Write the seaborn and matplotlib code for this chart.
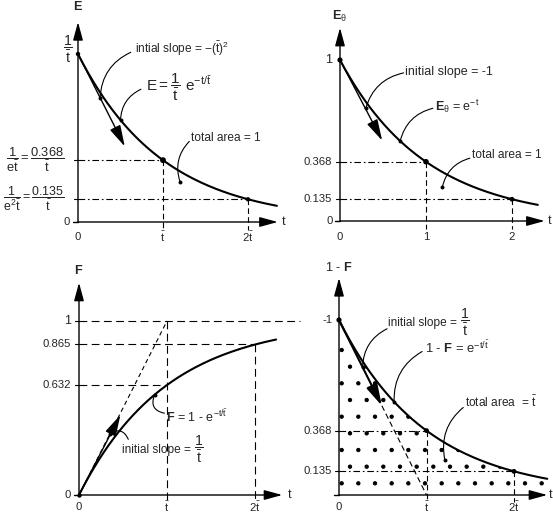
import numpy as np
import matplotlib
matplotlib.use("Agg")
import matplotlib.pyplot as plt
import seaborn as sns

sns.set_style("white")
plt.rcParams["font.family"] = ["Liberation Sans", "DejaVu Sans"]
plt.rcParams["mathtext.fontset"] = "custom"
plt.rcParams["mathtext.rm"] = "Liberation Sans"
plt.rcParams["mathtext.it"] = "Liberation Sans:italic"
plt.rcParams["mathtext.bf"] = "Liberation Sans:bold"
plt.rcParams["hatch.linewidth"] = 0.7

# marked times (multiples of the mean residence time)
t_marks = [0, 1, 2]
# exponential decay values at the marked times
decay_marks = [1.0, 0.368, 0.135]
# cumulative values at the marked times, and the asymptote
cum_marks = [0.0, 0.632, 0.865]
cum_limit = 1.0
# end of each drawn curve
t_end = {"E": 2.34, "Etheta": 2.30, "F": 2.24, "1-F": 2.38}

TB = r"\bar{\mathrm{t}}"
x_labels_tbar = ["0", rf"${TB}$", rf"$2{TB}$"]
x_labels_theta = ["0", "1", "2"]
decay_labels_theta = ["1", "0.368", "0.135"]
cum_labels = ["0", "0.632", "0.865"]

FS = 8.6
TK = 8.1
W, H = 553, 515
XL = (-1.0, 2.7)
YL = (-0.25, 1.4)

fig = plt.figure(figsize=(W / 100, H / 100), dpi=100)


def panel(ox, oy, ux, uy):
    left = ox + XL[0] * ux
    right = ox + XL[1] * ux
    top = oy - YL[1] * uy
    bottom = oy - YL[0] * uy
    ax = fig.add_axes([left / W, 1 - bottom / H, (right - left) / W, (bottom - top) / H])
    ax.set_xlim(*XL)
    ax.set_ylim(*YL)
    ax.axis("off")
    ax.patch.set_visible(False)
    return ax


def arrow(ax, p0, p1, lw=1.0, hl=0.7, hw=0.22):
    ax.annotate("", xy=p1, xytext=p0,
                arrowprops=dict(arrowstyle=f"-|>,head_length={hl},head_width={hw}",
                                lw=lw, color="k", shrinkA=0, shrinkB=0,
                                mutation_scale=10))


def axes_frame(ax, xend, ytop, tlabel_x, xname, name_y):
    ax.plot([-0.06, 0], [0, 0], color="k", lw=1.0)
    arrow(ax, (0, 0), (xend, 0), hl=1.1, hw=0.3)
    arrow(ax, (0, 0), (0, ytop), hl=1.1, hw=0.3)
    ax.text(tlabel_x, 0, "t", fontsize=FS + 0.5, ha="left", va="center")
    ax.text(0, name_y, xname, fontsize=FS + 0.5, ha="center", va="center")


def leader(ax, start, dot, rad):
    ax.annotate("", xy=dot, xytext=start,
                arrowprops=dict(arrowstyle="-", lw=0.8, color="k",
                                connectionstyle=f"arc3,rad={rad}",
                                shrinkA=0, shrinkB=0))
    ax.scatter([dot[0]], [dot[1]], s=8, color="k", zorder=5, linewidths=0)


def chained(ax, x, y, parts):
    """Write text pieces one after another, each vertically centred."""
    prev = ax.text(x, y, parts[0][0], fontsize=parts[0][1], ha="left", va="center")
    for s, fs in parts[1:]:
        prev = ax.annotate(s, xy=(1, 0.5), xycoords=prev, xytext=(2, 0),
                           textcoords="offset points", fontsize=fs,
                           ha="left", va="center")
    return prev


def curve(ax, t, y):
    sns.lineplot(x=t, y=y, ax=ax, color="k", lw=1.5, legend=False)


DASH = (0, (5, 3))
DASHDOT = (0, (6, 2.5, 1.5, 2.5))
LONG = (0, (7, 4))
FRAC1 = rf"$\dfrac{{1}}{{{TB}}}$"

# ---------------- E(t) ----------------
ax = panel(78, 222, 85, 168)
t = np.linspace(0, t_end["E"], 200)
curve(ax, t, np.exp(-t))
axes_frame(ax, 2.35, 1.19, 2.4, r"$\mathbf{E}$", 1.28)
for tm, v in zip(t_marks[1:], decay_marks[1:]):
    ax.plot([0, tm], [v, v], color="k", lw=0.8, ls=DASHDOT)
    ax.plot([tm, tm], [v, -0.05], color="k", lw=0.8, ls=DASH)
    ax.plot([-0.05, 0], [v, v], color="k", lw=0.8)
ax.scatter(t_marks, decay_marks, s=[10, 18, 10], color="k", zorder=5, linewidths=0)
for tm, lab in zip(t_marks, x_labels_tbar):
    ax.text(tm, -0.09, lab, fontsize=TK, ha="center", va="center")
ax.text(-0.09, 0, "0", fontsize=TK, ha="right", va="center")
ax.text(-0.12, 1.03, FRAC1, fontsize=TK + 2, ha="center", va="center")
ax.text(-0.16, decay_marks[1],
        rf"$\dfrac{{1}}{{\mathrm{{e}}{TB}}} = \dfrac{{{decay_marks[1]:.3f}}}{{{TB}}}$",
        fontsize=TK + 1.2, ha="right", va="center")
ax.text(-0.16, decay_marks[2],
        rf"$\dfrac{{1}}{{\mathrm{{e}}^2{TB}}} = \dfrac{{{decay_marks[2]:.3f}}}{{{TB}}}$",
        fontsize=TK + 0.8, ha="right", va="center")
arrow(ax, (0, 1), (0.55, 0.45), lw=1.0, hl=1.3, hw=0.35)
ax.text(0.67, 1.03, rf"intial slope = $-({TB})^2$", fontsize=FS, ha="left", va="center")
leader(ax, (0.62, 1.01), (0.26, 0.74), 0.3)
ax.text(0.80, 0.80, rf"$\mathrm{{E}} = \dfrac{{1}}{{{TB}}}\ \mathrm{{e}}^{{-\mathrm{{t}}/{TB}}}$",
        fontsize=FS + 2.5, ha="left", va="center")
leader(ax, (0.74, 0.79), (0.5, np.exp(-0.5)), 0.3)
ax.text(1.33, 0.50, "total area = 1", fontsize=FS, ha="left", va="center")
leader(ax, (1.31, 0.48), (1.2, 0.24), 0.3)

# ---------------- E_theta ----------------
ax = panel(340, 221, 86, 161)
t = np.linspace(0, t_end["Etheta"], 200)
curve(ax, t, np.exp(-t))
axes_frame(ax, 2.38, 1.2, 2.42, r"$\mathbf{E}_{\mathrm{\theta}}$", 1.27)
for tm, v in zip(t_marks[1:], decay_marks[1:]):
    ax.plot([0, tm], [v, v], color="k", lw=0.8, ls=DASHDOT)
    ax.plot([tm, tm], [v, -0.05], color="k", lw=0.8, ls=DASH)
    ax.plot([-0.05, 0], [v, v], color="k", lw=0.8)
ax.scatter(t_marks, decay_marks, s=[14, 16, 12], color="k", zorder=5, linewidths=0)
for tm, lab in zip(t_marks, x_labels_theta):
    ax.text(tm, -0.1, lab, fontsize=TK, ha="center", va="center")
ax.text(-0.08, 0, "0", fontsize=TK, ha="right", va="center")
for v, lab in zip(decay_marks, decay_labels_theta):
    ax.text(-0.09, v, lab, fontsize=TK + (1 if lab == "1" else 0), ha="right", va="center")
arrow(ax, (0, 1), (0.49, 0.5), lw=1.0, hl=1.3, hw=0.35)
ax.text(0.76, 0.925, "initial slope = -1", fontsize=FS + 0.4, ha="left", va="center")
leader(ax, (0.74, 0.92), (0.3, 0.7), 0.3)
ax.text(1.1, 0.71, r"$\mathbf{E}_{\mathrm{\theta}}$ = e$^{-\mathrm{t}}$", fontsize=FS + 0.4,
        ha="left", va="center")
leader(ax, (1.08, 0.70), (0.7, np.exp(-0.7)), 0.3)
ax.text(1.53, 0.41, "total area = 1", fontsize=FS, ha="left", va="center")
leader(ax, (1.51, 0.39), (1.19, 0.21), 0.3)

# ---------------- F(t) ----------------
ax = panel(79, 495, 88, 174)
t = np.linspace(0, t_end["F"], 200)
curve(ax, t, 1 - np.exp(-t))
axes_frame(ax, 2.31, 1.22, 2.37, r"$\mathbf{F}$", 1.29)
ax.plot([0, 2.51], [cum_limit, cum_limit], color="k", lw=0.8, ls=LONG)
ax.plot([-0.05, 0], [cum_limit, cum_limit], color="k", lw=0.8)
for tm, v in zip(t_marks[1:], cum_marks[1:]):
    ax.plot([0, tm], [v, v], color="k", lw=0.8, ls=LONG)
    ax.plot([-0.05, 0], [v, v], color="k", lw=0.8)
ax.plot([1, 1], [cum_limit, -0.04], color="k", lw=0.8, ls=LONG)
ax.plot([2, 2], [cum_marks[2], -0.04], color="k", lw=0.8, ls=LONG)
ax.plot([0, 1], [0, cum_limit], color="k", lw=0.8, ls=(0, (4, 3)))
ax.scatter([t_marks[0]], [cum_marks[0]], s=10, color="k", zorder=5, linewidths=0)
for tm, lab in zip(t_marks, x_labels_tbar):
    ax.text(tm, -0.07, lab, fontsize=TK, ha="center", va="center")
for v, lab in zip(cum_marks, cum_labels):
    ax.text(-0.09, v, lab, fontsize=TK, ha="right", va="center")
ax.text(-0.09, cum_limit, "1", fontsize=TK + 1, ha="right", va="center")
arrow(ax, (0, 0), (0.47, 0.46), lw=1.0, hl=1.3, hw=0.35)
ax.text(0.99, 0.45, rf"$\mathbf{{F}}$ = 1 - $\mathrm{{e}}^{{-\mathrm{{t}}/{TB}}}$",
        fontsize=FS + 0.4, ha="left", va="center")
leader(ax, (0.97, 0.47), (0.86, 1 - np.exp(-0.86)), -0.6)
chained(ax, 0.49, 0.26, [("initial slope =", FS), (FRAC1, FS + 1.5)])
leader(ax, (0.56, 0.32), (0.35, 0.35), 0.6)

# ---------------- 1 - F(t) ----------------
ax = panel(339, 495, 87.5, 175)
t = np.linspace(0, t_end["1-F"], 200)
y = np.exp(-t)
ax.fill_between(t, 0, y, facecolor="none", edgecolor="k", hatch=".", linewidth=0)
curve(ax, t, y)
axes_frame(ax, 2.38, 1.24, 2.4, r"1 - $\mathbf{F}$", 1.30)
for tm, v in zip(t_marks[1:], decay_marks[1:]):
    ax.plot([0, tm], [v, v], color="k", lw=0.8, ls=DASHDOT)
    ax.plot([tm, tm], [v, -0.04], color="k", lw=0.8, ls=DASH)
    ax.plot([-0.05, 0], [v, v], color="k", lw=0.8)
ax.scatter(t_marks, decay_marks, s=[14, 12, 12], color="k", zorder=5, linewidths=0)
for tm, lab in zip(t_marks, x_labels_tbar):
    ax.text(tm, -0.07, lab, fontsize=TK, ha="center", va="center")
ax.text(-0.07, decay_marks[0], "-1", fontsize=TK, ha="right", va="center")
for v, lab in zip(decay_marks[1:], decay_labels_theta[1:]):
    ax.text(-0.08, v, lab, fontsize=TK, ha="right", va="center")
arrow(ax, (0, 1), (0.49, 0.51), lw=1.5, hl=1.3, hw=0.35)
ax.plot([0.49, 1.0], [0.51, 0.0], color="k", lw=0.8, ls=DASH)
chained(ax, 0.56, 0.985, [("initial slope =", FS), (FRAC1, FS + 1.5)])
leader(ax, (0.55, 0.95), (0.27, 0.73), 0.3)
ax.text(0.98, 0.84, rf"1 - $\mathbf{{F}}$ = $\mathrm{{e}}^{{-\mathrm{{t}}/{TB}}}$",
        fontsize=FS + 0.8, ha="left", va="center")
leader(ax, (0.95, 0.82), (0.63, np.exp(-0.63)), 0.3)
ax.text(1.44, 0.53, rf"total area  = ${TB}$", fontsize=FS, ha="left", va="center")
leader(ax, (1.42, 0.50), (1.21, 0.2), 0.3)

fig.savefig("out.png", dpi=100, facecolor="white")
